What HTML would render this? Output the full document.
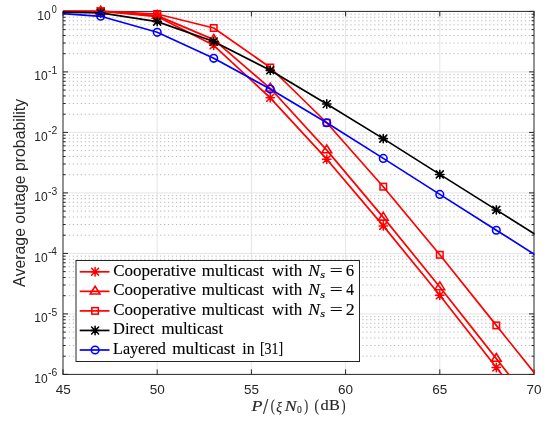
<!DOCTYPE html>
<html><head><meta charset="utf-8"><style>html,body{margin:0;padding:0;background:#fff;width:550px;height:422px;overflow:hidden}svg{display:block}text{font-kerning:none}</style></head>
<body><svg width="550" height="422" viewBox="0 0 550 422" style="font-kerning:none"><defs><clipPath id="c"><rect x="63.0" y="10.4" width="471.5" height="364.5"/></clipPath></defs><rect width="550" height="422" fill="#fff"/><g><line x1="63.0" y1="71.90" x2="534.0" y2="71.90" stroke="#dedede" stroke-width="0.8"/><line x1="63.0" y1="132.40" x2="534.0" y2="132.40" stroke="#dedede" stroke-width="0.8"/><line x1="63.0" y1="192.90" x2="534.0" y2="192.90" stroke="#dedede" stroke-width="0.8"/><line x1="63.0" y1="253.40" x2="534.0" y2="253.40" stroke="#dedede" stroke-width="0.8"/><line x1="63.0" y1="313.90" x2="534.0" y2="313.90" stroke="#dedede" stroke-width="0.8"/><line x1="63.0" y1="53.69" x2="534.0" y2="53.69" stroke="#b4b4b4" stroke-width="0.9" stroke-dasharray="1.3 2.665" stroke-dashoffset="-1.85"/><line x1="63.0" y1="43.03" x2="534.0" y2="43.03" stroke="#b4b4b4" stroke-width="0.9" stroke-dasharray="1.3 2.665" stroke-dashoffset="-1.85"/><line x1="63.0" y1="35.48" x2="534.0" y2="35.48" stroke="#b4b4b4" stroke-width="0.9" stroke-dasharray="1.3 2.665" stroke-dashoffset="-1.85"/><line x1="63.0" y1="29.61" x2="534.0" y2="29.61" stroke="#b4b4b4" stroke-width="0.9" stroke-dasharray="1.3 2.665" stroke-dashoffset="-1.85"/><line x1="63.0" y1="24.82" x2="534.0" y2="24.82" stroke="#b4b4b4" stroke-width="0.9" stroke-dasharray="1.3 2.665" stroke-dashoffset="-1.85"/><line x1="63.0" y1="20.77" x2="534.0" y2="20.77" stroke="#b4b4b4" stroke-width="0.9" stroke-dasharray="1.3 2.665" stroke-dashoffset="-1.85"/><line x1="63.0" y1="17.26" x2="534.0" y2="17.26" stroke="#b4b4b4" stroke-width="0.9" stroke-dasharray="1.3 2.665" stroke-dashoffset="-1.85"/><line x1="63.0" y1="14.17" x2="534.0" y2="14.17" stroke="#b4b4b4" stroke-width="0.9" stroke-dasharray="1.3 2.665" stroke-dashoffset="-1.85"/><line x1="63.0" y1="114.19" x2="534.0" y2="114.19" stroke="#b4b4b4" stroke-width="0.9" stroke-dasharray="1.3 2.665" stroke-dashoffset="-1.85"/><line x1="63.0" y1="103.53" x2="534.0" y2="103.53" stroke="#b4b4b4" stroke-width="0.9" stroke-dasharray="1.3 2.665" stroke-dashoffset="-1.85"/><line x1="63.0" y1="95.98" x2="534.0" y2="95.98" stroke="#b4b4b4" stroke-width="0.9" stroke-dasharray="1.3 2.665" stroke-dashoffset="-1.85"/><line x1="63.0" y1="90.11" x2="534.0" y2="90.11" stroke="#b4b4b4" stroke-width="0.9" stroke-dasharray="1.3 2.665" stroke-dashoffset="-1.85"/><line x1="63.0" y1="85.32" x2="534.0" y2="85.32" stroke="#b4b4b4" stroke-width="0.9" stroke-dasharray="1.3 2.665" stroke-dashoffset="-1.85"/><line x1="63.0" y1="81.27" x2="534.0" y2="81.27" stroke="#b4b4b4" stroke-width="0.9" stroke-dasharray="1.3 2.665" stroke-dashoffset="-1.85"/><line x1="63.0" y1="77.76" x2="534.0" y2="77.76" stroke="#b4b4b4" stroke-width="0.9" stroke-dasharray="1.3 2.665" stroke-dashoffset="-1.85"/><line x1="63.0" y1="74.67" x2="534.0" y2="74.67" stroke="#b4b4b4" stroke-width="0.9" stroke-dasharray="1.3 2.665" stroke-dashoffset="-1.85"/><line x1="63.0" y1="174.69" x2="534.0" y2="174.69" stroke="#b4b4b4" stroke-width="0.9" stroke-dasharray="1.3 2.665" stroke-dashoffset="-1.85"/><line x1="63.0" y1="164.03" x2="534.0" y2="164.03" stroke="#b4b4b4" stroke-width="0.9" stroke-dasharray="1.3 2.665" stroke-dashoffset="-1.85"/><line x1="63.0" y1="156.48" x2="534.0" y2="156.48" stroke="#b4b4b4" stroke-width="0.9" stroke-dasharray="1.3 2.665" stroke-dashoffset="-1.85"/><line x1="63.0" y1="150.61" x2="534.0" y2="150.61" stroke="#b4b4b4" stroke-width="0.9" stroke-dasharray="1.3 2.665" stroke-dashoffset="-1.85"/><line x1="63.0" y1="145.82" x2="534.0" y2="145.82" stroke="#b4b4b4" stroke-width="0.9" stroke-dasharray="1.3 2.665" stroke-dashoffset="-1.85"/><line x1="63.0" y1="141.77" x2="534.0" y2="141.77" stroke="#b4b4b4" stroke-width="0.9" stroke-dasharray="1.3 2.665" stroke-dashoffset="-1.85"/><line x1="63.0" y1="138.26" x2="534.0" y2="138.26" stroke="#b4b4b4" stroke-width="0.9" stroke-dasharray="1.3 2.665" stroke-dashoffset="-1.85"/><line x1="63.0" y1="135.17" x2="534.0" y2="135.17" stroke="#b4b4b4" stroke-width="0.9" stroke-dasharray="1.3 2.665" stroke-dashoffset="-1.85"/><line x1="63.0" y1="235.19" x2="534.0" y2="235.19" stroke="#b4b4b4" stroke-width="0.9" stroke-dasharray="1.3 2.665" stroke-dashoffset="-1.85"/><line x1="63.0" y1="224.53" x2="534.0" y2="224.53" stroke="#b4b4b4" stroke-width="0.9" stroke-dasharray="1.3 2.665" stroke-dashoffset="-1.85"/><line x1="63.0" y1="216.98" x2="534.0" y2="216.98" stroke="#b4b4b4" stroke-width="0.9" stroke-dasharray="1.3 2.665" stroke-dashoffset="-1.85"/><line x1="63.0" y1="211.11" x2="534.0" y2="211.11" stroke="#b4b4b4" stroke-width="0.9" stroke-dasharray="1.3 2.665" stroke-dashoffset="-1.85"/><line x1="63.0" y1="206.32" x2="534.0" y2="206.32" stroke="#b4b4b4" stroke-width="0.9" stroke-dasharray="1.3 2.665" stroke-dashoffset="-1.85"/><line x1="63.0" y1="202.27" x2="534.0" y2="202.27" stroke="#b4b4b4" stroke-width="0.9" stroke-dasharray="1.3 2.665" stroke-dashoffset="-1.85"/><line x1="63.0" y1="198.76" x2="534.0" y2="198.76" stroke="#b4b4b4" stroke-width="0.9" stroke-dasharray="1.3 2.665" stroke-dashoffset="-1.85"/><line x1="63.0" y1="195.67" x2="534.0" y2="195.67" stroke="#b4b4b4" stroke-width="0.9" stroke-dasharray="1.3 2.665" stroke-dashoffset="-1.85"/><line x1="63.0" y1="295.69" x2="534.0" y2="295.69" stroke="#b4b4b4" stroke-width="0.9" stroke-dasharray="1.3 2.665" stroke-dashoffset="-1.85"/><line x1="63.0" y1="285.03" x2="534.0" y2="285.03" stroke="#b4b4b4" stroke-width="0.9" stroke-dasharray="1.3 2.665" stroke-dashoffset="-1.85"/><line x1="63.0" y1="277.48" x2="534.0" y2="277.48" stroke="#b4b4b4" stroke-width="0.9" stroke-dasharray="1.3 2.665" stroke-dashoffset="-1.85"/><line x1="63.0" y1="271.61" x2="534.0" y2="271.61" stroke="#b4b4b4" stroke-width="0.9" stroke-dasharray="1.3 2.665" stroke-dashoffset="-1.85"/><line x1="63.0" y1="266.82" x2="534.0" y2="266.82" stroke="#b4b4b4" stroke-width="0.9" stroke-dasharray="1.3 2.665" stroke-dashoffset="-1.85"/><line x1="63.0" y1="262.77" x2="534.0" y2="262.77" stroke="#b4b4b4" stroke-width="0.9" stroke-dasharray="1.3 2.665" stroke-dashoffset="-1.85"/><line x1="63.0" y1="259.26" x2="534.0" y2="259.26" stroke="#b4b4b4" stroke-width="0.9" stroke-dasharray="1.3 2.665" stroke-dashoffset="-1.85"/><line x1="63.0" y1="256.17" x2="534.0" y2="256.17" stroke="#b4b4b4" stroke-width="0.9" stroke-dasharray="1.3 2.665" stroke-dashoffset="-1.85"/><line x1="63.0" y1="356.19" x2="534.0" y2="356.19" stroke="#b4b4b4" stroke-width="0.9" stroke-dasharray="1.3 2.665" stroke-dashoffset="-1.85"/><line x1="63.0" y1="345.53" x2="534.0" y2="345.53" stroke="#b4b4b4" stroke-width="0.9" stroke-dasharray="1.3 2.665" stroke-dashoffset="-1.85"/><line x1="63.0" y1="337.98" x2="534.0" y2="337.98" stroke="#b4b4b4" stroke-width="0.9" stroke-dasharray="1.3 2.665" stroke-dashoffset="-1.85"/><line x1="63.0" y1="332.11" x2="534.0" y2="332.11" stroke="#b4b4b4" stroke-width="0.9" stroke-dasharray="1.3 2.665" stroke-dashoffset="-1.85"/><line x1="63.0" y1="327.32" x2="534.0" y2="327.32" stroke="#b4b4b4" stroke-width="0.9" stroke-dasharray="1.3 2.665" stroke-dashoffset="-1.85"/><line x1="63.0" y1="323.27" x2="534.0" y2="323.27" stroke="#b4b4b4" stroke-width="0.9" stroke-dasharray="1.3 2.665" stroke-dashoffset="-1.85"/><line x1="63.0" y1="319.76" x2="534.0" y2="319.76" stroke="#b4b4b4" stroke-width="0.9" stroke-dasharray="1.3 2.665" stroke-dashoffset="-1.85"/><line x1="63.0" y1="316.67" x2="534.0" y2="316.67" stroke="#b4b4b4" stroke-width="0.9" stroke-dasharray="1.3 2.665" stroke-dashoffset="-1.85"/><line x1="157.20" y1="11.4" x2="157.20" y2="374.4" stroke="#dedede" stroke-width="0.8"/><line x1="251.40" y1="11.4" x2="251.40" y2="374.4" stroke="#dedede" stroke-width="0.8"/><line x1="345.60" y1="11.4" x2="345.60" y2="374.4" stroke="#dedede" stroke-width="0.8"/><line x1="439.80" y1="11.4" x2="439.80" y2="374.4" stroke="#dedede" stroke-width="0.8"/></g><rect x="63.0" y="11.4" width="471.0" height="363.0" fill="none" stroke="#262626" stroke-width="1"/><path d="M63.00,374.4v-5M63.00,11.4v5M157.20,374.4v-5M157.20,11.4v5M251.40,374.4v-5M251.40,11.4v5M345.60,374.4v-5M345.60,11.4v5M439.80,374.4v-5M439.80,11.4v5M534.00,374.4v-5M534.00,11.4v5M63.0,11.40h5M534.0,11.40h-5M63.0,71.90h5M534.0,71.90h-5M63.0,132.40h5M534.0,132.40h-5M63.0,192.90h5M534.0,192.90h-5M63.0,253.40h5M534.0,253.40h-5M63.0,313.90h5M534.0,313.90h-5M63.0,374.40h5M534.0,374.40h-5M63.0,53.69h2.5M534.0,53.69h-2.5M63.0,43.03h2.5M534.0,43.03h-2.5M63.0,35.48h2.5M534.0,35.48h-2.5M63.0,29.61h2.5M534.0,29.61h-2.5M63.0,24.82h2.5M534.0,24.82h-2.5M63.0,20.77h2.5M534.0,20.77h-2.5M63.0,17.26h2.5M534.0,17.26h-2.5M63.0,14.17h2.5M534.0,14.17h-2.5M63.0,114.19h2.5M534.0,114.19h-2.5M63.0,103.53h2.5M534.0,103.53h-2.5M63.0,95.98h2.5M534.0,95.98h-2.5M63.0,90.11h2.5M534.0,90.11h-2.5M63.0,85.32h2.5M534.0,85.32h-2.5M63.0,81.27h2.5M534.0,81.27h-2.5M63.0,77.76h2.5M534.0,77.76h-2.5M63.0,74.67h2.5M534.0,74.67h-2.5M63.0,174.69h2.5M534.0,174.69h-2.5M63.0,164.03h2.5M534.0,164.03h-2.5M63.0,156.48h2.5M534.0,156.48h-2.5M63.0,150.61h2.5M534.0,150.61h-2.5M63.0,145.82h2.5M534.0,145.82h-2.5M63.0,141.77h2.5M534.0,141.77h-2.5M63.0,138.26h2.5M534.0,138.26h-2.5M63.0,135.17h2.5M534.0,135.17h-2.5M63.0,235.19h2.5M534.0,235.19h-2.5M63.0,224.53h2.5M534.0,224.53h-2.5M63.0,216.98h2.5M534.0,216.98h-2.5M63.0,211.11h2.5M534.0,211.11h-2.5M63.0,206.32h2.5M534.0,206.32h-2.5M63.0,202.27h2.5M534.0,202.27h-2.5M63.0,198.76h2.5M534.0,198.76h-2.5M63.0,195.67h2.5M534.0,195.67h-2.5M63.0,295.69h2.5M534.0,295.69h-2.5M63.0,285.03h2.5M534.0,285.03h-2.5M63.0,277.48h2.5M534.0,277.48h-2.5M63.0,271.61h2.5M534.0,271.61h-2.5M63.0,266.82h2.5M534.0,266.82h-2.5M63.0,262.77h2.5M534.0,262.77h-2.5M63.0,259.26h2.5M534.0,259.26h-2.5M63.0,256.17h2.5M534.0,256.17h-2.5M63.0,356.19h2.5M534.0,356.19h-2.5M63.0,345.53h2.5M534.0,345.53h-2.5M63.0,337.98h2.5M534.0,337.98h-2.5M63.0,332.11h2.5M534.0,332.11h-2.5M63.0,327.32h2.5M534.0,327.32h-2.5M63.0,323.27h2.5M534.0,323.27h-2.5M63.0,319.76h2.5M534.0,319.76h-2.5M63.0,316.67h2.5M534.0,316.67h-2.5" stroke="#262626" stroke-width="1" fill="none"/><g><g clip-path="url(#c)"><polyline points="44.16,10.80 100.68,11.20 157.20,16.60 213.72,45.30 270.24,97.80 326.76,159.20 383.28,225.90 439.80,295.20 496.32,367.50 552.84,439.50" fill="none" stroke="#ff0000" stroke-width="1.7" stroke-linejoin="round"/></g><path d="M100.68,7.00V15.40M96.48,11.20H104.88M97.18,7.70L104.18,14.70M97.18,14.70L104.18,7.70" stroke="#ff0000" stroke-width="1.55" stroke-linecap="round" fill="none"/><path d="M157.20,12.40V20.80M153.00,16.60H161.40M153.70,13.10L160.70,20.10M153.70,20.10L160.70,13.10" stroke="#ff0000" stroke-width="1.55" stroke-linecap="round" fill="none"/><path d="M213.72,41.10V49.50M209.52,45.30H217.92M210.22,41.80L217.22,48.80M210.22,48.80L217.22,41.80" stroke="#ff0000" stroke-width="1.55" stroke-linecap="round" fill="none"/><path d="M270.24,93.60V102.00M266.04,97.80H274.44M266.74,94.30L273.74,101.30M266.74,101.30L273.74,94.30" stroke="#ff0000" stroke-width="1.55" stroke-linecap="round" fill="none"/><path d="M326.76,155.00V163.40M322.56,159.20H330.96M323.26,155.70L330.26,162.70M323.26,162.70L330.26,155.70" stroke="#ff0000" stroke-width="1.55" stroke-linecap="round" fill="none"/><path d="M383.28,221.70V230.10M379.08,225.90H387.48M379.78,222.40L386.78,229.40M379.78,229.40L386.78,222.40" stroke="#ff0000" stroke-width="1.55" stroke-linecap="round" fill="none"/><path d="M439.80,291.00V299.40M435.60,295.20H444.00M436.30,291.70L443.30,298.70M436.30,298.70L443.30,291.70" stroke="#ff0000" stroke-width="1.55" stroke-linecap="round" fill="none"/><path d="M496.32,363.30V371.70M492.12,367.50H500.52M492.82,364.00L499.82,371.00M492.82,371.00L499.82,364.00" stroke="#ff0000" stroke-width="1.55" stroke-linecap="round" fill="none"/><g clip-path="url(#c)"><polyline points="44.16,10.80 100.68,11.20 157.20,15.60 213.72,39.60 270.24,88.30 326.76,150.10 383.28,217.40 439.80,287.00 496.32,358.60 552.84,430.50" fill="none" stroke="#ff0000" stroke-width="1.7" stroke-linejoin="round"/></g><polygon points="100.68,6.10 105.58,13.90 95.78,13.90" fill="none" stroke="#ff0000" stroke-width="1.55" stroke-linejoin="miter"/><polygon points="157.20,10.50 162.10,18.30 152.30,18.30" fill="none" stroke="#ff0000" stroke-width="1.55" stroke-linejoin="miter"/><polygon points="213.72,34.50 218.62,42.30 208.82,42.30" fill="none" stroke="#ff0000" stroke-width="1.55" stroke-linejoin="miter"/><polygon points="270.24,83.20 275.14,91.00 265.34,91.00" fill="none" stroke="#ff0000" stroke-width="1.55" stroke-linejoin="miter"/><polygon points="326.76,145.00 331.66,152.80 321.86,152.80" fill="none" stroke="#ff0000" stroke-width="1.55" stroke-linejoin="miter"/><polygon points="383.28,212.30 388.18,220.10 378.38,220.10" fill="none" stroke="#ff0000" stroke-width="1.55" stroke-linejoin="miter"/><polygon points="439.80,281.90 444.70,289.70 434.90,289.70" fill="none" stroke="#ff0000" stroke-width="1.55" stroke-linejoin="miter"/><polygon points="496.32,353.50 501.22,361.30 491.42,361.30" fill="none" stroke="#ff0000" stroke-width="1.55" stroke-linejoin="miter"/><g clip-path="url(#c)"><polyline points="44.16,10.80 100.68,11.20 157.20,14.00 213.72,28.00 270.24,67.50 326.76,122.75 383.28,186.70 439.80,254.80 496.32,325.40 552.84,396.00" fill="none" stroke="#ff0000" stroke-width="1.7" stroke-linejoin="round"/></g><rect x="97.43" y="7.95" width="6.50" height="6.50" fill="none" stroke="#ff0000" stroke-width="1.55"/><rect x="153.95" y="10.75" width="6.50" height="6.50" fill="none" stroke="#ff0000" stroke-width="1.55"/><rect x="210.47" y="24.75" width="6.50" height="6.50" fill="none" stroke="#ff0000" stroke-width="1.55"/><rect x="266.99" y="64.25" width="6.50" height="6.50" fill="none" stroke="#ff0000" stroke-width="1.55"/><rect x="323.51" y="119.50" width="6.50" height="6.50" fill="none" stroke="#ff0000" stroke-width="1.55"/><rect x="380.03" y="183.45" width="6.50" height="6.50" fill="none" stroke="#ff0000" stroke-width="1.55"/><rect x="436.55" y="251.55" width="6.50" height="6.50" fill="none" stroke="#ff0000" stroke-width="1.55"/><rect x="493.07" y="322.15" width="6.50" height="6.50" fill="none" stroke="#ff0000" stroke-width="1.55"/><g clip-path="url(#c)"><polyline points="44.16,11.60 100.68,12.90 157.20,21.60 213.72,41.50 270.24,70.20 326.76,104.00 383.28,138.60 439.80,174.40 496.32,209.90 552.84,245.40" fill="none" stroke="#000000" stroke-width="1.7" stroke-linejoin="round"/></g><path d="M100.68,8.70V17.10M96.48,12.90H104.88M97.18,9.40L104.18,16.40M97.18,16.40L104.18,9.40" stroke="#000000" stroke-width="1.55" stroke-linecap="round" fill="none"/><path d="M157.20,17.40V25.80M153.00,21.60H161.40M153.70,18.10L160.70,25.10M153.70,25.10L160.70,18.10" stroke="#000000" stroke-width="1.55" stroke-linecap="round" fill="none"/><path d="M213.72,37.30V45.70M209.52,41.50H217.92M210.22,38.00L217.22,45.00M210.22,45.00L217.22,38.00" stroke="#000000" stroke-width="1.55" stroke-linecap="round" fill="none"/><path d="M270.24,66.00V74.40M266.04,70.20H274.44M266.74,66.70L273.74,73.70M266.74,73.70L273.74,66.70" stroke="#000000" stroke-width="1.55" stroke-linecap="round" fill="none"/><path d="M326.76,99.80V108.20M322.56,104.00H330.96M323.26,100.50L330.26,107.50M323.26,107.50L330.26,100.50" stroke="#000000" stroke-width="1.55" stroke-linecap="round" fill="none"/><path d="M383.28,134.40V142.80M379.08,138.60H387.48M379.78,135.10L386.78,142.10M379.78,142.10L386.78,135.10" stroke="#000000" stroke-width="1.55" stroke-linecap="round" fill="none"/><path d="M439.80,170.20V178.60M435.60,174.40H444.00M436.30,170.90L443.30,177.90M436.30,177.90L443.30,170.90" stroke="#000000" stroke-width="1.55" stroke-linecap="round" fill="none"/><path d="M496.32,205.70V214.10M492.12,209.90H500.52M492.82,206.40L499.82,213.40M492.82,213.40L499.82,206.40" stroke="#000000" stroke-width="1.55" stroke-linecap="round" fill="none"/><g clip-path="url(#c)"><polyline points="44.16,12.40 100.68,16.30 157.20,32.30 213.72,58.30 270.24,89.10 326.76,122.75 383.28,158.40 439.80,194.40 496.32,230.20 552.84,266.00" fill="none" stroke="#0000ff" stroke-width="1.7" stroke-linejoin="round"/></g><circle cx="100.68" cy="16.30" r="3.8" fill="none" stroke="#0000ff" stroke-width="1.55"/><circle cx="157.20" cy="32.30" r="3.8" fill="none" stroke="#0000ff" stroke-width="1.55"/><circle cx="213.72" cy="58.30" r="3.8" fill="none" stroke="#0000ff" stroke-width="1.55"/><circle cx="270.24" cy="89.10" r="3.8" fill="none" stroke="#0000ff" stroke-width="1.55"/><circle cx="326.76" cy="122.75" r="3.8" fill="none" stroke="#0000ff" stroke-width="1.55"/><circle cx="383.28" cy="158.40" r="3.8" fill="none" stroke="#0000ff" stroke-width="1.55"/><circle cx="439.80" cy="194.40" r="3.8" fill="none" stroke="#0000ff" stroke-width="1.55"/><circle cx="496.32" cy="230.20" r="3.8" fill="none" stroke="#0000ff" stroke-width="1.55"/></g><g fill="#262626"><text transform="translate(55.67,393.80)" font-family="'Liberation Sans', Arial, sans-serif" font-size="13.50">45</text><text transform="translate(149.74,393.80)" font-family="'Liberation Sans', Arial, sans-serif" font-size="13.50">50</text><text transform="translate(243.96,393.80)" font-family="'Liberation Sans', Arial, sans-serif" font-size="13.50">55</text><text transform="translate(338.06,393.80)" font-family="'Liberation Sans', Arial, sans-serif" font-size="13.50">60</text><text transform="translate(432.28,393.80)" font-family="'Liberation Sans', Arial, sans-serif" font-size="13.50">65</text><text transform="translate(526.46,393.80)" font-family="'Liberation Sans', Arial, sans-serif" font-size="13.50">70</text><text transform="translate(51.65,13.20) scale(0.4498,0.5226)" font-family="'Liberation Sans', Arial, sans-serif" font-size="20.0">0</text><text transform="translate(37.28,19.57) scale(0.6018,0.6497)" font-family="'Liberation Sans', Arial, sans-serif" font-size="20.0">10</text><text transform="translate(47.94,73.80) scale(0.5214,0.5378)" font-family="'Liberation Sans', Arial, sans-serif" font-size="20.0">-1</text><text transform="translate(34.28,80.07) scale(0.6018,0.6497)" font-family="'Liberation Sans', Arial, sans-serif" font-size="20.0">10</text><text transform="translate(47.94,134.30) scale(0.5224,0.5299)" font-family="'Liberation Sans', Arial, sans-serif" font-size="20.0">-2</text><text transform="translate(34.28,140.57) scale(0.6018,0.6497)" font-family="'Liberation Sans', Arial, sans-serif" font-size="20.0">10</text><text transform="translate(47.94,194.70) scale(0.5182,0.5226)" font-family="'Liberation Sans', Arial, sans-serif" font-size="20.0">-3</text><text transform="translate(34.28,201.07) scale(0.6018,0.6497)" font-family="'Liberation Sans', Arial, sans-serif" font-size="20.0">10</text><text transform="translate(47.95,255.30) scale(0.5089,0.5378)" font-family="'Liberation Sans', Arial, sans-serif" font-size="20.0">-4</text><text transform="translate(34.28,261.57) scale(0.6018,0.6497)" font-family="'Liberation Sans', Arial, sans-serif" font-size="20.0">10</text><text transform="translate(47.94,315.70) scale(0.5170,0.5303)" font-family="'Liberation Sans', Arial, sans-serif" font-size="20.0">-5</text><text transform="translate(34.28,322.07) scale(0.6018,0.6497)" font-family="'Liberation Sans', Arial, sans-serif" font-size="20.0">10</text><text transform="translate(47.94,376.20) scale(0.5182,0.5226)" font-family="'Liberation Sans', Arial, sans-serif" font-size="20.0">-6</text><text transform="translate(34.28,382.57) scale(0.6018,0.6497)" font-family="'Liberation Sans', Arial, sans-serif" font-size="20.0">10</text></g><g transform="translate(25,286.9) rotate(-90)"><text x="0" y="0" font-family="'Liberation Sans', Arial, sans-serif" font-size="15.8" fill="#262626">Average outage probability</text></g><g fill="#262626" stroke="#262626" stroke-width="0.2"><text transform="translate(251.60,410.70) scale(0.8971,0.7789)" font-family="'Liberation Serif', 'Times New Roman', serif" font-size="20.0" font-style="italic">P</text><text transform="translate(263.00,414.47) scale(0.9358,1.1585)" font-family="'Liberation Serif', 'Times New Roman', serif" font-size="20.0">/</text><text transform="translate(270.77,410.94) scale(0.6035,0.8602)" font-family="'Liberation Serif', 'Times New Roman', serif" font-size="20.0">(</text><text transform="translate(276.15,411.72) scale(0.6606,0.7600)" font-family="'Liberation Serif', 'Times New Roman', serif" font-size="20.0" font-style="italic">ξ</text><text transform="translate(284.83,410.70) scale(0.8880,0.7789)" font-family="'Liberation Serif', 'Times New Roman', serif" font-size="20.0" font-style="italic">N</text><text transform="translate(297.03,413.10) scale(0.4837,0.5261)" font-family="'Liberation Serif', 'Times New Roman', serif" font-size="20.0">0</text><text transform="translate(304.32,410.94) scale(0.5840,0.8602)" font-family="'Liberation Serif', 'Times New Roman', serif" font-size="20.0">)</text><text transform="translate(314.62,410.94) scale(0.6619,0.8602)" font-family="'Liberation Serif', 'Times New Roman', serif" font-size="20.0">(</text><text transform="translate(320.51,410.45) scale(0.8192,0.7604)" font-family="'Liberation Serif', 'Times New Roman', serif" font-size="20.0">d</text><text transform="translate(328.93,410.46) scale(0.8144,0.7374)" font-family="'Liberation Serif', 'Times New Roman', serif" font-size="20.0">B</text><text transform="translate(341.41,410.94) scale(0.6035,0.8602)" font-family="'Liberation Serif', 'Times New Roman', serif" font-size="20.0">)</text></g><rect x="76" y="260.5" width="283.5" height="101.0" fill="#ffffff" stroke="#262626" stroke-width="1"/><line x1="79.7" y1="271.80" x2="109.5" y2="271.80" stroke="#ff0000" stroke-width="1.7"/><path d="M95.10,267.60V276.00M90.90,271.80H99.30M91.60,268.30L98.60,275.30M91.60,275.30L98.60,268.30" stroke="#ff0000" stroke-width="1.55" stroke-linecap="round" fill="none"/><line x1="79.7" y1="291.35" x2="109.5" y2="291.35" stroke="#ff0000" stroke-width="1.7"/><polygon points="95.10,286.25 100.00,294.05 90.20,294.05" fill="none" stroke="#ff0000" stroke-width="1.55" stroke-linejoin="miter"/><line x1="79.7" y1="310.90" x2="109.5" y2="310.90" stroke="#ff0000" stroke-width="1.7"/><rect x="91.85" y="307.65" width="6.50" height="6.50" fill="none" stroke="#ff0000" stroke-width="1.55"/><line x1="79.7" y1="330.45" x2="109.5" y2="330.45" stroke="#000000" stroke-width="1.7"/><path d="M95.10,326.25V334.65M90.90,330.45H99.30M91.60,326.95L98.60,333.95M91.60,333.95L98.60,326.95" stroke="#000000" stroke-width="1.55" stroke-linecap="round" fill="none"/><line x1="79.7" y1="350.00" x2="109.5" y2="350.00" stroke="#0000ff" stroke-width="1.7"/><circle cx="95.10" cy="350.00" r="3.8" fill="none" stroke="#0000ff" stroke-width="1.55"/><g fill="#000" stroke="#000" stroke-width="0.12"><text transform="translate(113.20,275.70) scale(1.0482,1)" font-family="'Liberation Serif', 'Times New Roman', serif" font-size="16.20">Cooperative</text><text transform="translate(201.84,275.70) scale(1.0466,1)" font-family="'Liberation Serif', 'Times New Roman', serif" font-size="16.20">multicast</text><text transform="translate(272.08,275.70) scale(1.0465,1)" font-family="'Liberation Serif', 'Times New Roman', serif" font-size="16.20">with</text><text transform="translate(308.33,275.70) scale(1.0878,1)" font-family="'Liberation Serif', 'Times New Roman', serif" font-size="16.20" font-style="italic">N</text><text transform="translate(320.35,278.00) scale(1.1701,1)" font-family="'Liberation Serif', 'Times New Roman', serif" font-size="10.60" font-style="italic">s</text><text transform="translate(329.65,275.70) scale(1.4194,1)" font-family="'Liberation Serif', 'Times New Roman', serif" font-size="16.20">=</text><text transform="translate(345.78,275.70) scale(1.0403,1)" font-family="'Liberation Serif', 'Times New Roman', serif" font-size="16.20">6</text><text transform="translate(113.20,295.25) scale(1.0482,1)" font-family="'Liberation Serif', 'Times New Roman', serif" font-size="16.20">Cooperative</text><text transform="translate(201.84,295.25) scale(1.0466,1)" font-family="'Liberation Serif', 'Times New Roman', serif" font-size="16.20">multicast</text><text transform="translate(272.08,295.25) scale(1.0465,1)" font-family="'Liberation Serif', 'Times New Roman', serif" font-size="16.20">with</text><text transform="translate(308.33,295.25) scale(1.0878,1)" font-family="'Liberation Serif', 'Times New Roman', serif" font-size="16.20" font-style="italic">N</text><text transform="translate(320.35,297.55) scale(1.1701,1)" font-family="'Liberation Serif', 'Times New Roman', serif" font-size="10.60" font-style="italic">s</text><text transform="translate(329.65,295.25) scale(1.4194,1)" font-family="'Liberation Serif', 'Times New Roman', serif" font-size="16.20">=</text><text transform="translate(346.20,295.25) scale(0.9561,1)" font-family="'Liberation Serif', 'Times New Roman', serif" font-size="16.20">4</text><text transform="translate(113.20,314.80) scale(1.0482,1)" font-family="'Liberation Serif', 'Times New Roman', serif" font-size="16.20">Cooperative</text><text transform="translate(201.84,314.80) scale(1.0466,1)" font-family="'Liberation Serif', 'Times New Roman', serif" font-size="16.20">multicast</text><text transform="translate(272.08,314.80) scale(1.0465,1)" font-family="'Liberation Serif', 'Times New Roman', serif" font-size="16.20">with</text><text transform="translate(308.33,314.80) scale(1.0878,1)" font-family="'Liberation Serif', 'Times New Roman', serif" font-size="16.20" font-style="italic">N</text><text transform="translate(320.35,317.10) scale(1.1701,1)" font-family="'Liberation Serif', 'Times New Roman', serif" font-size="10.60" font-style="italic">s</text><text transform="translate(329.65,314.80) scale(1.4194,1)" font-family="'Liberation Serif', 'Times New Roman', serif" font-size="16.20">=</text><text transform="translate(345.71,314.80) scale(1.1087,1)" font-family="'Liberation Serif', 'Times New Roman', serif" font-size="16.20">2</text><text transform="translate(113.02,334.35) scale(1.0197,1)" font-family="'Liberation Serif', 'Times New Roman', serif" font-size="16.20">Direct</text><text transform="translate(161.45,334.35) scale(1.0381,1)" font-family="'Liberation Serif', 'Times New Roman', serif" font-size="16.20">multicast</text><text transform="translate(113.04,353.90) scale(0.9962,1)" font-family="'Liberation Serif', 'Times New Roman', serif" font-size="16.20">Layered</text><text transform="translate(172.24,353.90) scale(1.0618,1)" font-family="'Liberation Serif', 'Times New Roman', serif" font-size="16.20">multicast</text><text transform="translate(242.27,353.90) scale(0.9737,1)" font-family="'Liberation Serif', 'Times New Roman', serif" font-size="16.20">in</text><text transform="translate(259.96,353.90) scale(0.8623,1)" font-family="'Liberation Serif', 'Times New Roman', serif" font-size="16.20">[31]</text></g></svg></body></html>
